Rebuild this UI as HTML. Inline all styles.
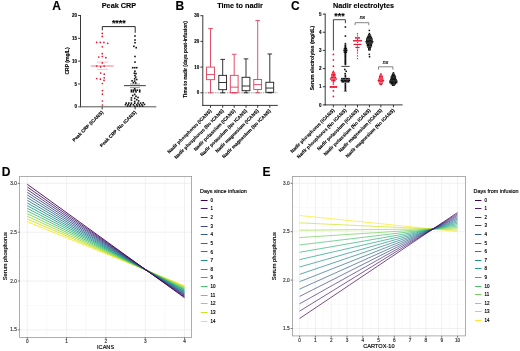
<!DOCTYPE html>
<html lang="en"><head><meta charset="utf-8"><title>Figure</title>
<style>
html,body{margin:0;padding:0;background:#fff;}
body{width:520px;height:351px;overflow:hidden;font-family:"Liberation Sans",Arial,sans-serif;}
svg{display:block;}
svg text{font-family:"Liberation Sans",Arial,sans-serif;}
</style></head><body>
<svg width="520" height="351" viewBox="0 0 520 351">
<rect width="520" height="351" fill="#fff"/>
<text x="52.2" y="10.0" font-size="12" font-weight="bold" text-anchor="start" fill="#000" stroke="#000" stroke-width="0.12">A</text>
<text x="175.4" y="10.0" font-size="12" font-weight="bold" text-anchor="start" fill="#000" stroke="#000" stroke-width="0.12">B</text>
<text x="291.0" y="10.0" font-size="12" font-weight="bold" text-anchor="start" fill="#000" stroke="#000" stroke-width="0.12">C</text>
<text x="1.7" y="175.9" font-size="12" font-weight="bold" text-anchor="start" fill="#000" stroke="#000" stroke-width="0.12">D</text>
<text x="262.5" y="175.9" font-size="12" font-weight="bold" text-anchor="start" fill="#000" stroke="#000" stroke-width="0.12">E</text>
<text x="119" y="8.3" font-size="7.3" font-weight="bold" text-anchor="middle" fill="#000" stroke="#000" stroke-width="0.12">Peak CRP</text>
<text x="240" y="8.3" font-size="7.3" font-weight="bold" text-anchor="middle" fill="#000" stroke="#000" stroke-width="0.12">Time to nadir</text>
<text x="363.5" y="8.3" font-size="7.3" font-weight="bold" text-anchor="middle" fill="#000" stroke="#000" stroke-width="0.12">Nadir electrolytes</text>
<line x1="80.50" y1="15.00" x2="80.50" y2="107.30" stroke="#222" stroke-width="0.9"/>
<line x1="78.30" y1="106.80" x2="156.30" y2="106.80" stroke="#555" stroke-width="1.0"/>
<text x="76.9" y="108.39999999999999" font-size="4.5" font-weight="bold" text-anchor="end" fill="#000" stroke="#000" stroke-width="0.12">0</text>
<line x1="78.10" y1="83.97" x2="80.50" y2="83.97" stroke="#222" stroke-width="0.9"/>
<text x="76.9" y="85.57499999999999" font-size="4.5" font-weight="bold" text-anchor="end" fill="#000" stroke="#000" stroke-width="0.12">5</text>
<line x1="78.10" y1="61.15" x2="80.50" y2="61.15" stroke="#222" stroke-width="0.9"/>
<text x="76.9" y="62.75" font-size="4.5" font-weight="bold" text-anchor="end" fill="#000" stroke="#000" stroke-width="0.12">10</text>
<line x1="78.10" y1="38.33" x2="80.50" y2="38.33" stroke="#222" stroke-width="0.9"/>
<text x="76.9" y="39.925000000000004" font-size="4.5" font-weight="bold" text-anchor="end" fill="#000" stroke="#000" stroke-width="0.12">15</text>
<line x1="78.10" y1="15.50" x2="80.50" y2="15.50" stroke="#222" stroke-width="0.9"/>
<text x="76.9" y="17.1" font-size="4.5" font-weight="bold" text-anchor="end" fill="#000" stroke="#000" stroke-width="0.12">20</text>
<text x="68.6" y="61" font-size="5.0" font-weight="bold" text-anchor="middle" fill="#000" transform="rotate(-90 68.6 61)" stroke="#000" stroke-width="0.12">CRP (mg/L)</text>
<line x1="102.20" y1="106.80" x2="102.20" y2="109.40" stroke="#222" stroke-width="0.9"/>
<line x1="135.20" y1="106.80" x2="135.20" y2="109.40" stroke="#222" stroke-width="0.9"/>
<text x="103.6" y="112.6" font-size="4.75" font-weight="bold" text-anchor="end" fill="#000" transform="rotate(-45 103.6 112.6)" stroke="#000" stroke-width="0.12">Peak CRP (ICANS)</text>
<text x="136.6" y="112.6" font-size="4.75" font-weight="bold" text-anchor="end" fill="#000" transform="rotate(-45 136.6 112.6)" stroke="#000" stroke-width="0.12">Peak CRP (No ICANS)</text>
<path d="M102.3 30.4V26.6H135.2V32.8" fill="none" stroke="#111" stroke-width="0.9"/>
<text x="118.8" y="26.4" font-size="8.8" font-weight="bold" text-anchor="middle" fill="#000" stroke="#000" stroke-width="0.12">****</text>
<g fill="#e8112d"><circle cx="102.3" cy="33.4" r="0.85"/><circle cx="102.3" cy="36.4" r="0.85"/><circle cx="96.7" cy="42.4" r="0.85"/><circle cx="100.3" cy="42.4" r="0.85"/><circle cx="103.9" cy="42.4" r="0.85"/><circle cx="107.7" cy="43.3" r="0.85"/><circle cx="102.3" cy="46.8" r="0.85"/><circle cx="102.3" cy="53.7" r="0.85"/><circle cx="98.8" cy="57.1" r="0.85"/><circle cx="102.3" cy="56.5" r="0.85"/><circle cx="105.9" cy="57.7" r="0.85"/><circle cx="102.3" cy="62.9" r="0.85"/><circle cx="96.7" cy="66.0" r="0.85"/><circle cx="100.6" cy="66.9" r="0.85"/><circle cx="104.2" cy="66.0" r="0.85"/><circle cx="100.7" cy="73.1" r="0.85"/><circle cx="104.2" cy="74.2" r="0.85"/><circle cx="96.7" cy="78.5" r="0.85"/><circle cx="100.4" cy="79.2" r="0.85"/><circle cx="104.2" cy="77.8" r="0.85"/><circle cx="104.0" cy="80.4" r="0.85"/><circle cx="102.4" cy="83.5" r="0.85"/><circle cx="102.4" cy="90.6" r="0.85"/><circle cx="102.4" cy="94.2" r="0.85"/><circle cx="102.4" cy="101.0" r="0.85"/><circle cx="102.4" cy="105.0" r="0.85"/></g>
<line x1="90.70" y1="66.00" x2="113.60" y2="66.00" stroke="#e8112d" stroke-width="0.7" opacity="0.8"/>
<line x1="97.00" y1="62.10" x2="108.00" y2="62.10" stroke="#e8112d" stroke-width="0.5" opacity="0.55"/>
<line x1="97.00" y1="69.70" x2="108.00" y2="69.70" stroke="#e8112d" stroke-width="0.5" opacity="0.55"/>
<g fill="#111"><rect x="134.2" y="35.2" width="1.6" height="1.6"/><rect x="134.2" y="39.2" width="1.6" height="1.6"/><rect x="134.2" y="41.9" width="1.6" height="1.6"/><rect x="133.1" y="45.5" width="1.6" height="1.6"/><rect x="135.4" y="46.9" width="1.6" height="1.6"/><rect x="134.2" y="55.7" width="1.6" height="1.6"/><rect x="134.2" y="61.3" width="1.6" height="1.6"/><rect x="131.9" y="66.9" width="1.6" height="1.6"/><rect x="133.9" y="66.9" width="1.6" height="1.6"/><rect x="135.9" y="66.9" width="1.6" height="1.6"/><rect x="134.1" y="70.4" width="1.6" height="1.6"/><rect x="133.6" y="72.4" width="1.6" height="1.6"/><rect x="135.2" y="72.8" width="1.6" height="1.6"/><rect x="134.1" y="74.7" width="1.6" height="1.6"/><rect x="134.9" y="76.3" width="1.6" height="1.6"/><rect x="133.9" y="78.0" width="1.6" height="1.6"/><rect x="135.9" y="78.7" width="1.6" height="1.6"/><rect x="131.3" y="80.0" width="1.6" height="1.6"/><rect x="133.9" y="80.3" width="1.6" height="1.6"/><rect x="132.6" y="81.8" width="1.6" height="1.6"/><rect x="134.9" y="82.2" width="1.6" height="1.6"/><rect x="133.9" y="88.0" width="1.6" height="1.6"/><rect x="130.6" y="89.4" width="1.6" height="1.6"/><rect x="132.6" y="89.4" width="1.6" height="1.6"/><rect x="134.5" y="89.4" width="1.6" height="1.6"/><rect x="136.5" y="89.4" width="1.6" height="1.6"/><rect x="138.9" y="89.4" width="1.6" height="1.6"/><rect x="130.6" y="91.0" width="1.6" height="1.6"/><rect x="132.6" y="91.0" width="1.6" height="1.6"/><rect x="135.2" y="91.0" width="1.6" height="1.6"/><rect x="138.9" y="91.0" width="1.6" height="1.6"/><rect x="131.9" y="94.7" width="1.6" height="1.6"/><rect x="135.2" y="95.5" width="1.6" height="1.6"/><rect x="133.9" y="93.6" width="1.6" height="1.6"/><rect x="130.6" y="97.1" width="1.6" height="1.6"/><rect x="133.9" y="97.6" width="1.6" height="1.6"/><rect x="137.2" y="96.7" width="1.6" height="1.6"/><rect x="130.6" y="99.3" width="1.6" height="1.6"/><rect x="135.9" y="98.9" width="1.6" height="1.6"/><rect x="137.8" y="100.1" width="1.6" height="1.6"/><rect x="133.9" y="100.7" width="1.6" height="1.6"/><rect x="125.4" y="102.3" width="1.6" height="1.6"/><rect x="128.0" y="102.3" width="1.6" height="1.6"/><rect x="130.6" y="102.3" width="1.6" height="1.6"/><rect x="133.9" y="102.4" width="1.6" height="1.6"/><rect x="137.2" y="102.3" width="1.6" height="1.6"/><rect x="139.8" y="102.3" width="1.6" height="1.6"/><rect x="142.4" y="102.0" width="1.6" height="1.6"/><rect x="124.7" y="103.9" width="1.6" height="1.6"/><rect x="127.3" y="103.9" width="1.6" height="1.6"/><rect x="129.9" y="103.9" width="1.6" height="1.6"/><rect x="132.6" y="104.0" width="1.6" height="1.6"/><rect x="135.9" y="103.9" width="1.6" height="1.6"/><rect x="138.5" y="103.9" width="1.6" height="1.6"/><rect x="141.1" y="103.9" width="1.6" height="1.6"/><rect x="143.7" y="103.6" width="1.6" height="1.6"/><rect x="126.7" y="105.3" width="1.6" height="1.6"/><rect x="129.3" y="105.3" width="1.6" height="1.6"/><rect x="133.9" y="105.5" width="1.6" height="1.6"/><rect x="136.5" y="105.3" width="1.6" height="1.6"/><rect x="139.1" y="105.3" width="1.6" height="1.6"/><rect x="141.8" y="105.3" width="1.6" height="1.6"/></g>
<line x1="124.00" y1="85.65" x2="145.80" y2="85.65" stroke="#222" stroke-width="0.9"/>
<line x1="130.00" y1="84.00" x2="140.00" y2="84.00" stroke="#333" stroke-width="0.5"/>
<line x1="130.00" y1="87.60" x2="140.00" y2="87.60" stroke="#333" stroke-width="0.5"/>
<line x1="202.80" y1="15.20" x2="202.80" y2="105.90" stroke="#222" stroke-width="0.9"/>
<line x1="202.30" y1="105.40" x2="277.80" y2="105.40" stroke="#222" stroke-width="0.9"/>
<line x1="202.80" y1="92.80" x2="277.60" y2="92.80" stroke="#888" stroke-width="0.8" stroke-dasharray="1.6 0.8"/>
<line x1="200.40" y1="92.80" x2="202.80" y2="92.80" stroke="#222" stroke-width="0.9"/>
<text x="199.20000000000002" y="94.39999999999999" font-size="4.5" font-weight="bold" text-anchor="end" fill="#000" stroke="#000" stroke-width="0.12">0</text>
<line x1="200.40" y1="67.10" x2="202.80" y2="67.10" stroke="#222" stroke-width="0.9"/>
<text x="199.20000000000002" y="68.69999999999999" font-size="4.5" font-weight="bold" text-anchor="end" fill="#000" stroke="#000" stroke-width="0.12">10</text>
<line x1="200.40" y1="41.40" x2="202.80" y2="41.40" stroke="#222" stroke-width="0.9"/>
<text x="199.20000000000002" y="43.0" font-size="4.5" font-weight="bold" text-anchor="end" fill="#000" stroke="#000" stroke-width="0.12">20</text>
<line x1="200.40" y1="15.70" x2="202.80" y2="15.70" stroke="#222" stroke-width="0.9"/>
<text x="199.20000000000002" y="17.300000000000004" font-size="4.5" font-weight="bold" text-anchor="end" fill="#000" stroke="#000" stroke-width="0.12">30</text>
<text x="186.9" y="59.5" font-size="4.75" font-weight="bold" text-anchor="middle" fill="#000" transform="rotate(-90 186.9 59.5)" stroke="#000" stroke-width="0.12">Time to nadir (days post-infusion)</text>
<line x1="210.50" y1="28.55" x2="210.50" y2="67.10" stroke="#de3350" stroke-width="0.85"/>
<line x1="210.50" y1="79.69" x2="210.50" y2="92.80" stroke="#de3350" stroke-width="0.85"/>
<line x1="208.20" y1="28.55" x2="212.80" y2="28.55" stroke="#de3350" stroke-width="0.85"/>
<line x1="208.20" y1="92.80" x2="212.80" y2="92.80" stroke="#de3350" stroke-width="0.85"/>
<rect x="206.60" y="67.10" width="7.80" height="12.59" fill="none" stroke="#de3350" stroke-width="0.85"/>
<line x1="206.60" y1="74.55" x2="214.40" y2="74.55" stroke="#de3350" stroke-width="0.85"/>
<line x1="210.50" y1="105.40" x2="210.50" y2="107.80" stroke="#222" stroke-width="0.9"/>
<text x="211.9" y="111.2" font-size="4.75" font-weight="bold" text-anchor="end" fill="#000" transform="rotate(-45 211.9 111.2)" stroke="#000" stroke-width="0.12">Nadir phosphorus (ICANS)</text>
<line x1="222.70" y1="59.39" x2="222.70" y2="75.32" stroke="#111" stroke-width="0.85"/>
<line x1="222.70" y1="89.72" x2="222.70" y2="92.80" stroke="#111" stroke-width="0.85"/>
<line x1="220.40" y1="59.39" x2="225.00" y2="59.39" stroke="#111" stroke-width="0.85"/>
<line x1="220.40" y1="92.80" x2="225.00" y2="92.80" stroke="#111" stroke-width="0.85"/>
<rect x="218.80" y="75.32" width="7.80" height="14.39" fill="none" stroke="#111" stroke-width="0.85"/>
<line x1="218.80" y1="82.52" x2="226.60" y2="82.52" stroke="#111" stroke-width="0.85"/>
<line x1="222.70" y1="105.40" x2="222.70" y2="107.80" stroke="#222" stroke-width="0.9"/>
<text x="224.1" y="111.2" font-size="4.75" font-weight="bold" text-anchor="end" fill="#000" transform="rotate(-45 224.1 111.2)" stroke="#000" stroke-width="0.12">Nadir phosphorus (No ICANS)</text>
<line x1="234.20" y1="54.25" x2="234.20" y2="75.32" stroke="#de3350" stroke-width="0.85"/>
<line x1="234.20" y1="92.80" x2="234.20" y2="92.80" stroke="#de3350" stroke-width="0.85"/>
<line x1="231.90" y1="54.25" x2="236.50" y2="54.25" stroke="#de3350" stroke-width="0.85"/>
<line x1="231.90" y1="92.80" x2="236.50" y2="92.80" stroke="#de3350" stroke-width="0.85"/>
<rect x="230.30" y="75.32" width="7.80" height="17.48" fill="none" stroke="#de3350" stroke-width="0.85"/>
<line x1="230.30" y1="87.15" x2="238.10" y2="87.15" stroke="#de3350" stroke-width="0.85"/>
<line x1="234.20" y1="105.40" x2="234.20" y2="107.80" stroke="#222" stroke-width="0.9"/>
<text x="235.6" y="111.2" font-size="4.75" font-weight="bold" text-anchor="end" fill="#000" transform="rotate(-45 235.6 111.2)" stroke="#000" stroke-width="0.12">Nadir potassium (ICANS)</text>
<line x1="246.00" y1="58.88" x2="246.00" y2="77.25" stroke="#111" stroke-width="0.85"/>
<line x1="246.00" y1="90.74" x2="246.00" y2="92.80" stroke="#111" stroke-width="0.85"/>
<line x1="243.70" y1="58.88" x2="248.30" y2="58.88" stroke="#111" stroke-width="0.85"/>
<line x1="243.70" y1="92.80" x2="248.30" y2="92.80" stroke="#111" stroke-width="0.85"/>
<rect x="242.10" y="77.25" width="7.80" height="13.49" fill="none" stroke="#111" stroke-width="0.85"/>
<line x1="242.10" y1="85.99" x2="249.90" y2="85.99" stroke="#111" stroke-width="0.85"/>
<line x1="246.00" y1="105.40" x2="246.00" y2="107.80" stroke="#222" stroke-width="0.9"/>
<text x="247.4" y="111.2" font-size="4.75" font-weight="bold" text-anchor="end" fill="#000" transform="rotate(-45 247.4 111.2)" stroke="#000" stroke-width="0.12">Nadir potassium (No ICANS)</text>
<line x1="257.70" y1="20.58" x2="257.70" y2="79.44" stroke="#de3350" stroke-width="0.85"/>
<line x1="257.70" y1="89.46" x2="257.70" y2="92.80" stroke="#de3350" stroke-width="0.85"/>
<line x1="255.40" y1="20.58" x2="260.00" y2="20.58" stroke="#de3350" stroke-width="0.85"/>
<line x1="255.40" y1="92.80" x2="260.00" y2="92.80" stroke="#de3350" stroke-width="0.85"/>
<rect x="253.80" y="79.44" width="7.80" height="10.02" fill="none" stroke="#de3350" stroke-width="0.85"/>
<line x1="253.80" y1="84.58" x2="261.60" y2="84.58" stroke="#de3350" stroke-width="0.85"/>
<line x1="257.70" y1="105.40" x2="257.70" y2="107.80" stroke="#222" stroke-width="0.9"/>
<text x="259.09999999999997" y="111.2" font-size="4.75" font-weight="bold" text-anchor="end" fill="#000" transform="rotate(-45 259.09999999999997 111.2)" stroke="#000" stroke-width="0.12">Nadir magnesium (ICANS)</text>
<line x1="269.80" y1="53.99" x2="269.80" y2="82.26" stroke="#111" stroke-width="0.85"/>
<line x1="269.80" y1="92.29" x2="269.80" y2="92.80" stroke="#111" stroke-width="0.85"/>
<line x1="267.50" y1="53.99" x2="272.10" y2="53.99" stroke="#111" stroke-width="0.85"/>
<line x1="267.50" y1="92.80" x2="272.10" y2="92.80" stroke="#111" stroke-width="0.85"/>
<rect x="265.90" y="82.26" width="7.80" height="10.02" fill="none" stroke="#111" stroke-width="0.85"/>
<line x1="265.90" y1="88.05" x2="273.70" y2="88.05" stroke="#111" stroke-width="0.85"/>
<line x1="269.80" y1="105.40" x2="269.80" y2="107.80" stroke="#222" stroke-width="0.9"/>
<text x="271.2" y="111.2" font-size="4.75" font-weight="bold" text-anchor="end" fill="#000" transform="rotate(-45 271.2 111.2)" stroke="#000" stroke-width="0.12">Nadir magnesium (No ICANS)</text>
<line x1="325.20" y1="13.60" x2="325.20" y2="105.40" stroke="#222" stroke-width="0.9"/>
<line x1="324.70" y1="104.90" x2="402.60" y2="104.90" stroke="#222" stroke-width="0.9"/>
<line x1="322.80" y1="104.90" x2="325.20" y2="104.90" stroke="#222" stroke-width="0.9"/>
<text x="321.59999999999997" y="106.5" font-size="4.5" font-weight="bold" text-anchor="end" fill="#000" stroke="#000" stroke-width="0.12">0</text>
<line x1="322.80" y1="86.74" x2="325.20" y2="86.74" stroke="#222" stroke-width="0.9"/>
<text x="321.59999999999997" y="88.34" font-size="4.5" font-weight="bold" text-anchor="end" fill="#000" stroke="#000" stroke-width="0.12">1</text>
<line x1="322.80" y1="68.58" x2="325.20" y2="68.58" stroke="#222" stroke-width="0.9"/>
<text x="321.59999999999997" y="70.17999999999999" font-size="4.5" font-weight="bold" text-anchor="end" fill="#000" stroke="#000" stroke-width="0.12">2</text>
<line x1="322.80" y1="50.42" x2="325.20" y2="50.42" stroke="#222" stroke-width="0.9"/>
<text x="321.59999999999997" y="52.02" font-size="4.5" font-weight="bold" text-anchor="end" fill="#000" stroke="#000" stroke-width="0.12">3</text>
<line x1="322.80" y1="32.26" x2="325.20" y2="32.26" stroke="#222" stroke-width="0.9"/>
<text x="321.59999999999997" y="33.85999999999999" font-size="4.5" font-weight="bold" text-anchor="end" fill="#000" stroke="#000" stroke-width="0.12">4</text>
<line x1="322.80" y1="14.10" x2="325.20" y2="14.10" stroke="#222" stroke-width="0.9"/>
<text x="321.59999999999997" y="15.699999999999994" font-size="4.5" font-weight="bold" text-anchor="end" fill="#000" stroke="#000" stroke-width="0.12">5</text>
<text x="314.3" y="58" font-size="5.0" font-weight="bold" text-anchor="middle" fill="#000" transform="rotate(-90 314.3 58)" stroke="#000" stroke-width="0.12">Serum electrolytes (mg/dL)</text>
<line x1="333.40" y1="104.90" x2="333.40" y2="107.30" stroke="#222" stroke-width="0.9"/>
<text x="334.79999999999995" y="110.7" font-size="4.75" font-weight="bold" text-anchor="end" fill="#000" transform="rotate(-45 334.79999999999995 110.7)" stroke="#000" stroke-width="0.12">Nadir phosphorus (ICANS)</text>
<line x1="345.40" y1="104.90" x2="345.40" y2="107.30" stroke="#222" stroke-width="0.9"/>
<text x="346.79999999999995" y="110.7" font-size="4.75" font-weight="bold" text-anchor="end" fill="#000" transform="rotate(-45 346.79999999999995 110.7)" stroke="#000" stroke-width="0.12">Nadir phosphorus (No ICANS)</text>
<line x1="357.50" y1="104.90" x2="357.50" y2="107.30" stroke="#222" stroke-width="0.9"/>
<text x="358.9" y="110.7" font-size="4.75" font-weight="bold" text-anchor="end" fill="#000" transform="rotate(-45 358.9 110.7)" stroke="#000" stroke-width="0.12">Nadir potassium (ICANS)</text>
<line x1="369.40" y1="104.90" x2="369.40" y2="107.30" stroke="#222" stroke-width="0.9"/>
<text x="370.79999999999995" y="110.7" font-size="4.75" font-weight="bold" text-anchor="end" fill="#000" transform="rotate(-45 370.79999999999995 110.7)" stroke="#000" stroke-width="0.12">Nadir potassium (No ICANS)</text>
<line x1="380.90" y1="104.90" x2="380.90" y2="107.30" stroke="#222" stroke-width="0.9"/>
<text x="382.29999999999995" y="110.7" font-size="4.75" font-weight="bold" text-anchor="end" fill="#000" transform="rotate(-45 382.29999999999995 110.7)" stroke="#000" stroke-width="0.12">Nadir magnesium (ICANS)</text>
<line x1="393.40" y1="104.90" x2="393.40" y2="107.30" stroke="#222" stroke-width="0.9"/>
<text x="394.79999999999995" y="110.7" font-size="4.75" font-weight="bold" text-anchor="end" fill="#000" transform="rotate(-45 394.79999999999995 110.7)" stroke="#000" stroke-width="0.12">Nadir magnesium (No ICANS)</text>
<path d="M333.4 50.5V19.7H345.4V23.2" fill="none" stroke="#111" stroke-width="0.8"/>
<text x="339.5" y="19.0" font-size="8.9" font-weight="bold" text-anchor="middle" fill="#000" stroke="#000" stroke-width="0.12">***</text>
<path d="M355.1 25.2V22.7H368.8V25.2" fill="none" stroke="#333" stroke-width="0.6"/>
<text x="362.4" y="19.2" font-size="5.2" font-weight="normal" text-anchor="middle" fill="#111" font-style="italic" stroke="#111" stroke-width="0.2">ns</text>
<path d="M378.5 69.6V66.8H392.9V69.6" fill="none" stroke="#333" stroke-width="0.6"/>
<text x="385.6" y="63.6" font-size="5.2" font-weight="normal" text-anchor="middle" fill="#111" font-style="italic" stroke="#111" stroke-width="0.2">ns</text>
<g fill="#e8112d"><circle cx="333.4" cy="54.4" r="0.85"/><circle cx="333.4" cy="59.9" r="0.85"/><circle cx="333.4" cy="66.2" r="0.85"/><circle cx="333.4" cy="71.3" r="0.85"/><circle cx="332.7" cy="72.8" r="0.85"/><circle cx="334.1" cy="72.8" r="0.85"/><circle cx="332.0" cy="74.4" r="0.85"/><circle cx="333.4" cy="74.4" r="0.85"/><circle cx="334.8" cy="74.4" r="0.85"/><circle cx="332.0" cy="75.9" r="0.85"/><circle cx="333.4" cy="75.9" r="0.85"/><circle cx="334.8" cy="75.9" r="0.85"/><circle cx="331.3" cy="77.5" r="0.85"/><circle cx="332.7" cy="77.5" r="0.85"/><circle cx="334.1" cy="77.5" r="0.85"/><circle cx="335.5" cy="77.5" r="0.85"/><circle cx="330.6" cy="79.0" r="0.85"/><circle cx="332.0" cy="79.0" r="0.85"/><circle cx="333.4" cy="79.0" r="0.85"/><circle cx="334.8" cy="79.0" r="0.85"/><circle cx="336.2" cy="79.0" r="0.85"/><circle cx="332.0" cy="80.6" r="0.85"/><circle cx="333.4" cy="80.6" r="0.85"/><circle cx="334.8" cy="80.6" r="0.85"/><circle cx="333.4" cy="82.1" r="0.85"/><circle cx="333.4" cy="84.0" r="0.85"/><circle cx="330.4" cy="86.9" r="0.85"/><circle cx="331.9" cy="86.9" r="0.85"/><circle cx="333.4" cy="86.9" r="0.85"/><circle cx="334.9" cy="86.9" r="0.85"/><circle cx="336.4" cy="86.9" r="0.85"/><circle cx="333.4" cy="90.9" r="0.85"/><circle cx="333.4" cy="96.4" r="0.85"/></g>
<line x1="330.00" y1="86.92" x2="336.80" y2="86.92" stroke="#e8112d" stroke-width="1.1"/>
<g fill="#111"><rect x="344.6" y="26.2" width="1.6" height="1.6"/><rect x="344.6" y="35.3" width="1.6" height="1.6"/><rect x="344.6" y="42.9" width="1.6" height="1.6"/><rect x="344.6" y="44.5" width="1.6" height="1.6"/><rect x="344.6" y="45.4" width="1.6" height="1.6"/><rect x="344.6" y="46.4" width="1.6" height="1.6"/><rect x="344.6" y="47.3" width="1.6" height="1.6"/><rect x="344.6" y="48.2" width="1.6" height="1.6"/><rect x="344.6" y="49.1" width="1.6" height="1.6"/><rect x="344.6" y="50.0" width="1.6" height="1.6"/><rect x="344.6" y="50.9" width="1.6" height="1.6"/><rect x="344.6" y="51.8" width="1.6" height="1.6"/><rect x="344.6" y="52.7" width="1.6" height="1.6"/><rect x="344.6" y="53.6" width="1.6" height="1.6"/><rect x="344.6" y="54.5" width="1.6" height="1.6"/><rect x="344.6" y="55.4" width="1.6" height="1.6"/><rect x="344.6" y="56.3" width="1.6" height="1.6"/><rect x="344.6" y="57.2" width="1.6" height="1.6"/><rect x="344.6" y="58.2" width="1.6" height="1.6"/><rect x="344.6" y="59.1" width="1.6" height="1.6"/><rect x="344.6" y="60.0" width="1.6" height="1.6"/><rect x="344.6" y="60.9" width="1.6" height="1.6"/><rect x="344.6" y="61.8" width="1.6" height="1.6"/><rect x="344.6" y="62.7" width="1.6" height="1.6"/><rect x="344.6" y="63.6" width="1.6" height="1.6"/><rect x="343.7" y="47.8" width="1.6" height="1.6"/><rect x="345.5" y="47.8" width="1.6" height="1.6"/><rect x="343.3" y="49.6" width="1.6" height="1.6"/><rect x="345.9" y="49.6" width="1.6" height="1.6"/><rect x="343.7" y="51.4" width="1.6" height="1.6"/><rect x="345.5" y="51.4" width="1.6" height="1.6"/><rect x="344.0" y="68.7" width="1.6" height="1.6"/><rect x="345.4" y="70.5" width="1.6" height="1.6"/><rect x="344.3" y="72.9" width="1.6" height="1.6"/><rect x="344.6" y="74.7" width="1.6" height="1.6"/><rect x="344.6" y="76.0" width="1.6" height="1.6"/><rect x="341.0" y="77.9" width="1.6" height="1.6"/><rect x="342.4" y="77.9" width="1.6" height="1.6"/><rect x="343.8" y="77.9" width="1.6" height="1.6"/><rect x="345.4" y="77.9" width="1.6" height="1.6"/><rect x="346.8" y="77.9" width="1.6" height="1.6"/><rect x="348.2" y="77.9" width="1.6" height="1.6"/><rect x="340.6" y="79.6" width="1.6" height="1.6"/><rect x="342.0" y="79.6" width="1.6" height="1.6"/><rect x="343.4" y="79.6" width="1.6" height="1.6"/><rect x="344.8" y="79.6" width="1.6" height="1.6"/><rect x="346.2" y="79.6" width="1.6" height="1.6"/><rect x="347.6" y="79.6" width="1.6" height="1.6"/><rect x="348.6" y="79.6" width="1.6" height="1.6"/><rect x="341.4" y="81.0" width="1.6" height="1.6"/><rect x="343.0" y="81.0" width="1.6" height="1.6"/><rect x="344.6" y="81.0" width="1.6" height="1.6"/><rect x="346.2" y="81.0" width="1.6" height="1.6"/><rect x="347.8" y="81.0" width="1.6" height="1.6"/><rect x="344.6" y="83.0" width="1.6" height="1.6"/><rect x="344.6" y="84.3" width="1.6" height="1.6"/><rect x="344.6" y="85.6" width="1.6" height="1.6"/><rect x="344.6" y="86.8" width="1.6" height="1.6"/><rect x="344.6" y="88.1" width="1.6" height="1.6"/><rect x="344.6" y="89.4" width="1.6" height="1.6"/></g>
<line x1="341.40" y1="66.40" x2="349.60" y2="66.40" stroke="#111" stroke-width="0.8"/>
<line x1="343.80" y1="91.28" x2="347.00" y2="91.28" stroke="#111" stroke-width="0.6"/>
<line x1="355.00" y1="37.89" x2="360.00" y2="37.89" stroke="#e8112d" stroke-width="0.9"/>
<line x1="353.60" y1="40.80" x2="361.40" y2="40.80" stroke="#e8112d" stroke-width="0.9"/>
<line x1="353.90" y1="44.43" x2="361.10" y2="44.43" stroke="#e8112d" stroke-width="0.9"/>
<line x1="355.70" y1="47.51" x2="359.30" y2="47.51" stroke="#e8112d" stroke-width="0.9"/>
<g fill="#e8112d"><circle cx="357.5" cy="33.7" r="0.7"/><circle cx="357.5" cy="35.9" r="0.7"/><circle cx="355.6" cy="37.9" r="0.7"/><circle cx="356.9" cy="37.9" r="0.7"/><circle cx="358.1" cy="37.9" r="0.7"/><circle cx="359.4" cy="37.9" r="0.7"/><circle cx="353.6" cy="40.8" r="0.7"/><circle cx="354.9" cy="40.8" r="0.7"/><circle cx="356.2" cy="40.8" r="0.7"/><circle cx="357.5" cy="40.8" r="0.7"/><circle cx="358.8" cy="40.8" r="0.7"/><circle cx="360.1" cy="40.8" r="0.7"/><circle cx="361.4" cy="40.8" r="0.7"/><circle cx="354.2" cy="44.4" r="0.7"/><circle cx="355.6" cy="44.4" r="0.7"/><circle cx="356.9" cy="44.4" r="0.7"/><circle cx="358.1" cy="44.4" r="0.7"/><circle cx="359.4" cy="44.4" r="0.7"/><circle cx="360.8" cy="44.4" r="0.7"/><circle cx="356.2" cy="47.5" r="0.7"/><circle cx="357.5" cy="47.5" r="0.7"/><circle cx="358.8" cy="47.5" r="0.7"/><circle cx="357.5" cy="39.3" r="0.7"/><circle cx="357.5" cy="42.6" r="0.7"/><circle cx="357.5" cy="45.9" r="0.7"/><circle cx="357.5" cy="49.1" r="0.7"/><circle cx="357.5" cy="50.8" r="0.7"/><circle cx="357.5" cy="53.0" r="0.7"/><circle cx="357.5" cy="55.9" r="0.7"/><circle cx="357.5" cy="58.6" r="0.7"/></g>
<g fill="#111"><rect x="368.6" y="29.7" width="1.5" height="1.5"/><rect x="368.6" y="32.8" width="1.5" height="1.5"/><rect x="368.0" y="34.1" width="1.5" height="1.5"/><rect x="369.3" y="34.1" width="1.5" height="1.5"/><rect x="367.3" y="35.5" width="1.5" height="1.5"/><rect x="368.6" y="35.5" width="1.5" height="1.5"/><rect x="369.9" y="35.5" width="1.5" height="1.5"/><rect x="366.7" y="36.9" width="1.5" height="1.5"/><rect x="368.0" y="36.9" width="1.5" height="1.5"/><rect x="369.3" y="36.9" width="1.5" height="1.5"/><rect x="370.6" y="36.9" width="1.5" height="1.5"/><rect x="366.0" y="38.2" width="1.5" height="1.5"/><rect x="367.3" y="38.2" width="1.5" height="1.5"/><rect x="368.6" y="38.2" width="1.5" height="1.5"/><rect x="369.9" y="38.2" width="1.5" height="1.5"/><rect x="371.2" y="38.2" width="1.5" height="1.5"/><rect x="366.0" y="39.6" width="1.5" height="1.5"/><rect x="367.3" y="39.6" width="1.5" height="1.5"/><rect x="368.6" y="39.6" width="1.5" height="1.5"/><rect x="369.9" y="39.6" width="1.5" height="1.5"/><rect x="371.2" y="39.6" width="1.5" height="1.5"/><rect x="365.4" y="41.0" width="1.5" height="1.5"/><rect x="366.7" y="41.0" width="1.5" height="1.5"/><rect x="368.0" y="41.0" width="1.5" height="1.5"/><rect x="369.3" y="41.0" width="1.5" height="1.5"/><rect x="370.6" y="41.0" width="1.5" height="1.5"/><rect x="371.9" y="41.0" width="1.5" height="1.5"/><rect x="366.0" y="42.3" width="1.5" height="1.5"/><rect x="367.3" y="42.3" width="1.5" height="1.5"/><rect x="368.6" y="42.3" width="1.5" height="1.5"/><rect x="369.9" y="42.3" width="1.5" height="1.5"/><rect x="371.2" y="42.3" width="1.5" height="1.5"/><rect x="366.7" y="43.7" width="1.5" height="1.5"/><rect x="368.0" y="43.7" width="1.5" height="1.5"/><rect x="369.3" y="43.7" width="1.5" height="1.5"/><rect x="370.6" y="43.7" width="1.5" height="1.5"/><rect x="366.7" y="45.0" width="1.5" height="1.5"/><rect x="368.0" y="45.0" width="1.5" height="1.5"/><rect x="369.3" y="45.0" width="1.5" height="1.5"/><rect x="370.6" y="45.0" width="1.5" height="1.5"/><rect x="367.3" y="46.4" width="1.5" height="1.5"/><rect x="368.6" y="46.4" width="1.5" height="1.5"/><rect x="369.9" y="46.4" width="1.5" height="1.5"/><rect x="368.0" y="47.8" width="1.5" height="1.5"/><rect x="369.3" y="47.8" width="1.5" height="1.5"/><rect x="368.0" y="49.1" width="1.5" height="1.5"/><rect x="369.3" y="49.1" width="1.5" height="1.5"/><rect x="368.6" y="53.7" width="1.5" height="1.5"/><rect x="368.8" y="56.0" width="1.5" height="1.5"/></g>
<g fill="#e8112d"><circle cx="380.9" cy="73.7" r="0.8"/><circle cx="380.2" cy="75.0" r="0.8"/><circle cx="381.5" cy="75.0" r="0.8"/><circle cx="379.6" cy="76.4" r="0.8"/><circle cx="380.9" cy="76.4" r="0.8"/><circle cx="382.2" cy="76.4" r="0.8"/><circle cx="379.6" cy="77.8" r="0.8"/><circle cx="380.9" cy="77.8" r="0.8"/><circle cx="382.2" cy="77.8" r="0.8"/><circle cx="378.9" cy="79.1" r="0.8"/><circle cx="380.2" cy="79.1" r="0.8"/><circle cx="381.5" cy="79.1" r="0.8"/><circle cx="382.8" cy="79.1" r="0.8"/><circle cx="378.3" cy="80.5" r="0.8"/><circle cx="379.6" cy="80.5" r="0.8"/><circle cx="380.9" cy="80.5" r="0.8"/><circle cx="382.2" cy="80.5" r="0.8"/><circle cx="383.5" cy="80.5" r="0.8"/><circle cx="378.9" cy="81.8" r="0.8"/><circle cx="380.2" cy="81.8" r="0.8"/><circle cx="381.5" cy="81.8" r="0.8"/><circle cx="382.8" cy="81.8" r="0.8"/><circle cx="379.6" cy="83.2" r="0.8"/><circle cx="380.9" cy="83.2" r="0.8"/><circle cx="382.2" cy="83.2" r="0.8"/><circle cx="380.2" cy="84.6" r="0.8"/><circle cx="381.5" cy="84.6" r="0.8"/></g>
<g fill="#111"><rect x="392.6" y="72.1" width="1.6" height="1.6"/><rect x="391.9" y="73.5" width="1.6" height="1.6"/><rect x="393.2" y="73.5" width="1.6" height="1.6"/><rect x="391.3" y="74.9" width="1.6" height="1.6"/><rect x="392.6" y="74.9" width="1.6" height="1.6"/><rect x="393.9" y="74.9" width="1.6" height="1.6"/><rect x="390.6" y="76.2" width="1.6" height="1.6"/><rect x="391.9" y="76.2" width="1.6" height="1.6"/><rect x="393.2" y="76.2" width="1.6" height="1.6"/><rect x="394.5" y="76.2" width="1.6" height="1.6"/><rect x="390.6" y="77.6" width="1.6" height="1.6"/><rect x="391.9" y="77.6" width="1.6" height="1.6"/><rect x="393.2" y="77.6" width="1.6" height="1.6"/><rect x="394.5" y="77.6" width="1.6" height="1.6"/><rect x="390.0" y="78.9" width="1.6" height="1.6"/><rect x="391.3" y="78.9" width="1.6" height="1.6"/><rect x="392.6" y="78.9" width="1.6" height="1.6"/><rect x="393.9" y="78.9" width="1.6" height="1.6"/><rect x="395.2" y="78.9" width="1.6" height="1.6"/><rect x="389.3" y="80.3" width="1.6" height="1.6"/><rect x="390.6" y="80.3" width="1.6" height="1.6"/><rect x="391.9" y="80.3" width="1.6" height="1.6"/><rect x="393.2" y="80.3" width="1.6" height="1.6"/><rect x="394.5" y="80.3" width="1.6" height="1.6"/><rect x="395.8" y="80.3" width="1.6" height="1.6"/><rect x="389.3" y="81.7" width="1.6" height="1.6"/><rect x="390.6" y="81.7" width="1.6" height="1.6"/><rect x="391.9" y="81.7" width="1.6" height="1.6"/><rect x="393.2" y="81.7" width="1.6" height="1.6"/><rect x="394.5" y="81.7" width="1.6" height="1.6"/><rect x="395.8" y="81.7" width="1.6" height="1.6"/><rect x="390.6" y="83.0" width="1.6" height="1.6"/><rect x="391.9" y="83.0" width="1.6" height="1.6"/><rect x="393.2" y="83.0" width="1.6" height="1.6"/><rect x="394.5" y="83.0" width="1.6" height="1.6"/><rect x="391.9" y="84.4" width="1.6" height="1.6"/><rect x="393.2" y="84.4" width="1.6" height="1.6"/></g>
<rect x="19.6" y="176.4" width="172.0" height="160.99999999999997" fill="#fff"/>
<line x1="46.95" y1="176.40" x2="46.95" y2="337.40" stroke="#f1f1f1" stroke-width="0.35"/>
<line x1="86.25" y1="176.40" x2="86.25" y2="337.40" stroke="#f1f1f1" stroke-width="0.35"/>
<line x1="125.55" y1="176.40" x2="125.55" y2="337.40" stroke="#f1f1f1" stroke-width="0.35"/>
<line x1="164.85" y1="176.40" x2="164.85" y2="337.40" stroke="#f1f1f1" stroke-width="0.35"/>
<line x1="19.60" y1="305.40" x2="191.60" y2="305.40" stroke="#f1f1f1" stroke-width="0.35"/>
<line x1="19.60" y1="256.60" x2="191.60" y2="256.60" stroke="#f1f1f1" stroke-width="0.35"/>
<line x1="19.60" y1="207.80" x2="191.60" y2="207.80" stroke="#f1f1f1" stroke-width="0.35"/>
<line x1="27.30" y1="176.40" x2="27.30" y2="337.40" stroke="#e6e6e6" stroke-width="0.55"/>
<line x1="66.60" y1="176.40" x2="66.60" y2="337.40" stroke="#e6e6e6" stroke-width="0.55"/>
<line x1="105.90" y1="176.40" x2="105.90" y2="337.40" stroke="#e6e6e6" stroke-width="0.55"/>
<line x1="145.20" y1="176.40" x2="145.20" y2="337.40" stroke="#e6e6e6" stroke-width="0.55"/>
<line x1="184.50" y1="176.40" x2="184.50" y2="337.40" stroke="#e6e6e6" stroke-width="0.55"/>
<line x1="19.60" y1="329.80" x2="191.60" y2="329.80" stroke="#e6e6e6" stroke-width="0.55"/>
<line x1="19.60" y1="281.00" x2="191.60" y2="281.00" stroke="#e6e6e6" stroke-width="0.55"/>
<line x1="19.60" y1="232.20" x2="191.60" y2="232.20" stroke="#e6e6e6" stroke-width="0.55"/>
<line x1="19.60" y1="183.40" x2="191.60" y2="183.40" stroke="#e6e6e6" stroke-width="0.55"/>
<line x1="27.30" y1="221.70" x2="184.50" y2="285.80" stroke="#FDE725" stroke-width="0.9"/>
<line x1="27.30" y1="219.03" x2="184.50" y2="286.65" stroke="#CFE11C" stroke-width="0.9"/>
<line x1="27.30" y1="216.36" x2="184.50" y2="287.50" stroke="#9FDA3A" stroke-width="0.9"/>
<line x1="27.30" y1="213.69" x2="184.50" y2="288.35" stroke="#71CF57" stroke-width="0.9"/>
<line x1="27.30" y1="211.01" x2="184.50" y2="289.20" stroke="#4AC16D" stroke-width="0.9"/>
<line x1="27.30" y1="208.34" x2="184.50" y2="290.05" stroke="#2DB27D" stroke-width="0.9"/>
<line x1="27.30" y1="205.67" x2="184.50" y2="290.90" stroke="#1FA187" stroke-width="0.9"/>
<line x1="27.30" y1="203.00" x2="184.50" y2="291.75" stroke="#21908C" stroke-width="0.9"/>
<line x1="27.30" y1="200.33" x2="184.50" y2="292.60" stroke="#277F8E" stroke-width="0.9"/>
<line x1="27.30" y1="197.66" x2="184.50" y2="293.45" stroke="#2E6E8E" stroke-width="0.9"/>
<line x1="27.30" y1="194.99" x2="184.50" y2="294.30" stroke="#365C8D" stroke-width="0.9"/>
<line x1="27.30" y1="192.31" x2="184.50" y2="295.15" stroke="#3F4788" stroke-width="0.9"/>
<line x1="27.30" y1="189.64" x2="184.50" y2="296.00" stroke="#46327E" stroke-width="0.9"/>
<line x1="27.30" y1="186.97" x2="184.50" y2="296.85" stroke="#481B6D" stroke-width="0.9"/>
<line x1="27.30" y1="184.30" x2="184.50" y2="297.70" stroke="#440154" stroke-width="0.9"/>
<rect x="19.6" y="176.4" width="172.0" height="160.99999999999997" fill="none" stroke="#999" stroke-width="0.8"/>
<line x1="27.30" y1="337.40" x2="27.30" y2="339.20" stroke="#444" stroke-width="0.7"/>
<text x="27.3" y="343.09999999999997" font-size="4.7" font-weight="normal" text-anchor="middle" fill="#333" stroke="#333" stroke-width="0.16">0</text>
<line x1="66.60" y1="337.40" x2="66.60" y2="339.20" stroke="#444" stroke-width="0.7"/>
<text x="66.6" y="343.09999999999997" font-size="4.7" font-weight="normal" text-anchor="middle" fill="#333" stroke="#333" stroke-width="0.16">1</text>
<line x1="105.90" y1="337.40" x2="105.90" y2="339.20" stroke="#444" stroke-width="0.7"/>
<text x="105.89999999999999" y="343.09999999999997" font-size="4.7" font-weight="normal" text-anchor="middle" fill="#333" stroke="#333" stroke-width="0.16">2</text>
<line x1="145.20" y1="337.40" x2="145.20" y2="339.20" stroke="#444" stroke-width="0.7"/>
<text x="145.2" y="343.09999999999997" font-size="4.7" font-weight="normal" text-anchor="middle" fill="#333" stroke="#333" stroke-width="0.16">3</text>
<line x1="184.50" y1="337.40" x2="184.50" y2="339.20" stroke="#444" stroke-width="0.7"/>
<text x="184.5" y="343.09999999999997" font-size="4.7" font-weight="normal" text-anchor="middle" fill="#333" stroke="#333" stroke-width="0.16">4</text>
<line x1="17.80" y1="329.80" x2="19.60" y2="329.80" stroke="#444" stroke-width="0.7"/>
<text x="16.8" y="331.45" font-size="4.7" font-weight="normal" text-anchor="end" fill="#333" stroke="#333" stroke-width="0.16">1.5</text>
<line x1="17.80" y1="281.00" x2="19.60" y2="281.00" stroke="#444" stroke-width="0.7"/>
<text x="16.8" y="282.65" font-size="4.7" font-weight="normal" text-anchor="end" fill="#333" stroke="#333" stroke-width="0.16">2.0</text>
<line x1="17.80" y1="232.20" x2="19.60" y2="232.20" stroke="#444" stroke-width="0.7"/>
<text x="16.8" y="233.85000000000002" font-size="4.7" font-weight="normal" text-anchor="end" fill="#333" stroke="#333" stroke-width="0.16">2.5</text>
<line x1="17.80" y1="183.40" x2="19.60" y2="183.40" stroke="#444" stroke-width="0.7"/>
<text x="16.8" y="185.05000000000004" font-size="4.7" font-weight="normal" text-anchor="end" fill="#333" stroke="#333" stroke-width="0.16">3.0</text>
<text x="105.6" y="349.2" font-size="5.6" font-weight="normal" text-anchor="middle" fill="#000" stroke="#000" stroke-width="0.16">ICANS</text>
<text x="6.6" y="256.2" font-size="5.7" font-weight="normal" text-anchor="middle" fill="#000" transform="rotate(-90 6.6 256.2)" stroke="#000" stroke-width="0.16">Serum phosphorus</text>
<text x="200" y="193" font-size="5.45" font-weight="normal" text-anchor="start" fill="#000" stroke="#000" stroke-width="0.16">Days since infusion</text>
<line x1="200.80" y1="200.50" x2="207.60" y2="200.50" stroke="#440154" stroke-width="1.0"/>
<text x="210.6" y="201.79999999999998" font-size="4.5" font-weight="normal" text-anchor="start" fill="#000" stroke="#000" stroke-width="0.16">0</text>
<line x1="200.80" y1="208.50" x2="207.60" y2="208.50" stroke="#481B6D" stroke-width="1.0"/>
<text x="210.6" y="210.42999999999998" font-size="4.5" font-weight="normal" text-anchor="start" fill="#000" stroke="#000" stroke-width="0.16">1</text>
<line x1="200.80" y1="217.50" x2="207.60" y2="217.50" stroke="#46327E" stroke-width="1.0"/>
<text x="210.6" y="219.05999999999997" font-size="4.5" font-weight="normal" text-anchor="start" fill="#000" stroke="#000" stroke-width="0.16">2</text>
<line x1="200.80" y1="226.50" x2="207.60" y2="226.50" stroke="#3F4788" stroke-width="1.0"/>
<text x="210.6" y="227.68999999999997" font-size="4.5" font-weight="normal" text-anchor="start" fill="#000" stroke="#000" stroke-width="0.16">3</text>
<line x1="200.80" y1="234.50" x2="207.60" y2="234.50" stroke="#365C8D" stroke-width="1.0"/>
<text x="210.6" y="236.32" font-size="4.5" font-weight="normal" text-anchor="start" fill="#000" stroke="#000" stroke-width="0.16">4</text>
<line x1="200.80" y1="243.50" x2="207.60" y2="243.50" stroke="#2E6E8E" stroke-width="1.0"/>
<text x="210.6" y="244.95" font-size="4.5" font-weight="normal" text-anchor="start" fill="#000" stroke="#000" stroke-width="0.16">5</text>
<line x1="200.80" y1="251.50" x2="207.60" y2="251.50" stroke="#277F8E" stroke-width="1.0"/>
<text x="210.6" y="253.57999999999998" font-size="4.5" font-weight="normal" text-anchor="start" fill="#000" stroke="#000" stroke-width="0.16">6</text>
<line x1="200.80" y1="260.50" x2="207.60" y2="260.50" stroke="#21908C" stroke-width="1.0"/>
<text x="210.6" y="262.21000000000004" font-size="4.5" font-weight="normal" text-anchor="start" fill="#000" stroke="#000" stroke-width="0.16">7</text>
<line x1="200.80" y1="269.50" x2="207.60" y2="269.50" stroke="#1FA187" stroke-width="1.0"/>
<text x="210.6" y="270.84000000000003" font-size="4.5" font-weight="normal" text-anchor="start" fill="#000" stroke="#000" stroke-width="0.16">8</text>
<line x1="200.80" y1="277.50" x2="207.60" y2="277.50" stroke="#2DB27D" stroke-width="1.0"/>
<text x="210.6" y="279.47" font-size="4.5" font-weight="normal" text-anchor="start" fill="#000" stroke="#000" stroke-width="0.16">9</text>
<line x1="200.80" y1="286.50" x2="207.60" y2="286.50" stroke="#4AC16D" stroke-width="1.0"/>
<text x="210.6" y="288.1" font-size="4.5" font-weight="normal" text-anchor="start" fill="#000" stroke="#000" stroke-width="0.16">10</text>
<line x1="200.80" y1="295.50" x2="207.60" y2="295.50" stroke="#71CF57" stroke-width="1.0"/>
<text x="210.6" y="296.73" font-size="4.5" font-weight="normal" text-anchor="start" fill="#000" stroke="#000" stroke-width="0.16">11</text>
<line x1="200.80" y1="303.50" x2="207.60" y2="303.50" stroke="#9FDA3A" stroke-width="1.0"/>
<text x="210.6" y="305.36" font-size="4.5" font-weight="normal" text-anchor="start" fill="#000" stroke="#000" stroke-width="0.16">12</text>
<line x1="200.80" y1="312.50" x2="207.60" y2="312.50" stroke="#CFE11C" stroke-width="1.0"/>
<text x="210.6" y="313.99" font-size="4.5" font-weight="normal" text-anchor="start" fill="#000" stroke="#000" stroke-width="0.16">13</text>
<line x1="200.80" y1="321.50" x2="207.60" y2="321.50" stroke="#FDE725" stroke-width="1.0"/>
<text x="210.6" y="322.62" font-size="4.5" font-weight="normal" text-anchor="start" fill="#000" stroke="#000" stroke-width="0.16">14</text>
<rect x="292.4" y="176.4" width="173.0" height="159.49999999999997" fill="#fff"/>
<line x1="307.50" y1="176.40" x2="307.50" y2="335.90" stroke="#f1f1f1" stroke-width="0.35"/>
<line x1="323.29" y1="176.40" x2="323.29" y2="335.90" stroke="#f1f1f1" stroke-width="0.35"/>
<line x1="339.08" y1="176.40" x2="339.08" y2="335.90" stroke="#f1f1f1" stroke-width="0.35"/>
<line x1="354.87" y1="176.40" x2="354.87" y2="335.90" stroke="#f1f1f1" stroke-width="0.35"/>
<line x1="370.66" y1="176.40" x2="370.66" y2="335.90" stroke="#f1f1f1" stroke-width="0.35"/>
<line x1="386.45" y1="176.40" x2="386.45" y2="335.90" stroke="#f1f1f1" stroke-width="0.35"/>
<line x1="402.24" y1="176.40" x2="402.24" y2="335.90" stroke="#f1f1f1" stroke-width="0.35"/>
<line x1="418.03" y1="176.40" x2="418.03" y2="335.90" stroke="#f1f1f1" stroke-width="0.35"/>
<line x1="433.82" y1="176.40" x2="433.82" y2="335.90" stroke="#f1f1f1" stroke-width="0.35"/>
<line x1="449.61" y1="176.40" x2="449.61" y2="335.90" stroke="#f1f1f1" stroke-width="0.35"/>
<line x1="292.40" y1="304.30" x2="465.40" y2="304.30" stroke="#f1f1f1" stroke-width="0.35"/>
<line x1="292.40" y1="255.90" x2="465.40" y2="255.90" stroke="#f1f1f1" stroke-width="0.35"/>
<line x1="292.40" y1="207.50" x2="465.40" y2="207.50" stroke="#f1f1f1" stroke-width="0.35"/>
<line x1="299.60" y1="176.40" x2="299.60" y2="335.90" stroke="#e6e6e6" stroke-width="0.55"/>
<line x1="315.39" y1="176.40" x2="315.39" y2="335.90" stroke="#e6e6e6" stroke-width="0.55"/>
<line x1="331.18" y1="176.40" x2="331.18" y2="335.90" stroke="#e6e6e6" stroke-width="0.55"/>
<line x1="346.97" y1="176.40" x2="346.97" y2="335.90" stroke="#e6e6e6" stroke-width="0.55"/>
<line x1="362.76" y1="176.40" x2="362.76" y2="335.90" stroke="#e6e6e6" stroke-width="0.55"/>
<line x1="378.55" y1="176.40" x2="378.55" y2="335.90" stroke="#e6e6e6" stroke-width="0.55"/>
<line x1="394.34" y1="176.40" x2="394.34" y2="335.90" stroke="#e6e6e6" stroke-width="0.55"/>
<line x1="410.13" y1="176.40" x2="410.13" y2="335.90" stroke="#e6e6e6" stroke-width="0.55"/>
<line x1="425.92" y1="176.40" x2="425.92" y2="335.90" stroke="#e6e6e6" stroke-width="0.55"/>
<line x1="441.71" y1="176.40" x2="441.71" y2="335.90" stroke="#e6e6e6" stroke-width="0.55"/>
<line x1="457.50" y1="176.40" x2="457.50" y2="335.90" stroke="#e6e6e6" stroke-width="0.55"/>
<line x1="292.40" y1="328.50" x2="465.40" y2="328.50" stroke="#e6e6e6" stroke-width="0.55"/>
<line x1="292.40" y1="280.10" x2="465.40" y2="280.10" stroke="#e6e6e6" stroke-width="0.55"/>
<line x1="292.40" y1="231.70" x2="465.40" y2="231.70" stroke="#e6e6e6" stroke-width="0.55"/>
<line x1="292.40" y1="183.30" x2="465.40" y2="183.30" stroke="#e6e6e6" stroke-width="0.55"/>
<line x1="299.60" y1="215.50" x2="457.50" y2="231.50" stroke="#FDE725" stroke-width="0.7"/>
<line x1="299.60" y1="222.86" x2="457.50" y2="230.14" stroke="#CFE11C" stroke-width="0.7"/>
<line x1="299.60" y1="230.21" x2="457.50" y2="228.79" stroke="#9FDA3A" stroke-width="0.7"/>
<line x1="299.60" y1="237.57" x2="457.50" y2="227.43" stroke="#71CF57" stroke-width="0.7"/>
<line x1="299.60" y1="244.93" x2="457.50" y2="226.07" stroke="#4AC16D" stroke-width="0.7"/>
<line x1="299.60" y1="252.29" x2="457.50" y2="224.71" stroke="#2DB27D" stroke-width="0.7"/>
<line x1="299.60" y1="259.64" x2="457.50" y2="223.36" stroke="#1FA187" stroke-width="0.7"/>
<line x1="299.60" y1="267.00" x2="457.50" y2="222.00" stroke="#21908C" stroke-width="0.7"/>
<line x1="299.60" y1="274.36" x2="457.50" y2="220.64" stroke="#277F8E" stroke-width="0.7"/>
<line x1="299.60" y1="281.71" x2="457.50" y2="219.29" stroke="#2E6E8E" stroke-width="0.7"/>
<line x1="299.60" y1="289.07" x2="457.50" y2="217.93" stroke="#365C8D" stroke-width="0.7"/>
<line x1="299.60" y1="296.43" x2="457.50" y2="216.57" stroke="#3F4788" stroke-width="0.7"/>
<line x1="299.60" y1="303.79" x2="457.50" y2="215.21" stroke="#46327E" stroke-width="0.7"/>
<line x1="299.60" y1="311.14" x2="457.50" y2="213.86" stroke="#481B6D" stroke-width="0.7"/>
<line x1="299.60" y1="318.50" x2="457.50" y2="212.50" stroke="#440154" stroke-width="0.7"/>
<rect x="292.4" y="176.4" width="173.0" height="159.49999999999997" fill="none" stroke="#999" stroke-width="0.8"/>
<line x1="299.60" y1="335.90" x2="299.60" y2="337.70" stroke="#444" stroke-width="0.7"/>
<text x="299.6" y="341.59999999999997" font-size="4.7" font-weight="normal" text-anchor="middle" fill="#333" stroke="#333" stroke-width="0.16">0</text>
<line x1="315.39" y1="335.90" x2="315.39" y2="337.70" stroke="#444" stroke-width="0.7"/>
<text x="315.39000000000004" y="341.59999999999997" font-size="4.7" font-weight="normal" text-anchor="middle" fill="#333" stroke="#333" stroke-width="0.16">1</text>
<line x1="331.18" y1="335.90" x2="331.18" y2="337.70" stroke="#444" stroke-width="0.7"/>
<text x="331.18" y="341.59999999999997" font-size="4.7" font-weight="normal" text-anchor="middle" fill="#333" stroke="#333" stroke-width="0.16">2</text>
<line x1="346.97" y1="335.90" x2="346.97" y2="337.70" stroke="#444" stroke-width="0.7"/>
<text x="346.97" y="341.59999999999997" font-size="4.7" font-weight="normal" text-anchor="middle" fill="#333" stroke="#333" stroke-width="0.16">3</text>
<line x1="362.76" y1="335.90" x2="362.76" y2="337.70" stroke="#444" stroke-width="0.7"/>
<text x="362.76" y="341.59999999999997" font-size="4.7" font-weight="normal" text-anchor="middle" fill="#333" stroke="#333" stroke-width="0.16">4</text>
<line x1="378.55" y1="335.90" x2="378.55" y2="337.70" stroke="#444" stroke-width="0.7"/>
<text x="378.55" y="341.59999999999997" font-size="4.7" font-weight="normal" text-anchor="middle" fill="#333" stroke="#333" stroke-width="0.16">5</text>
<line x1="394.34" y1="335.90" x2="394.34" y2="337.70" stroke="#444" stroke-width="0.7"/>
<text x="394.34000000000003" y="341.59999999999997" font-size="4.7" font-weight="normal" text-anchor="middle" fill="#333" stroke="#333" stroke-width="0.16">6</text>
<line x1="410.13" y1="335.90" x2="410.13" y2="337.70" stroke="#444" stroke-width="0.7"/>
<text x="410.13" y="341.59999999999997" font-size="4.7" font-weight="normal" text-anchor="middle" fill="#333" stroke="#333" stroke-width="0.16">7</text>
<line x1="425.92" y1="335.90" x2="425.92" y2="337.70" stroke="#444" stroke-width="0.7"/>
<text x="425.92" y="341.59999999999997" font-size="4.7" font-weight="normal" text-anchor="middle" fill="#333" stroke="#333" stroke-width="0.16">8</text>
<line x1="441.71" y1="335.90" x2="441.71" y2="337.70" stroke="#444" stroke-width="0.7"/>
<text x="441.71000000000004" y="341.59999999999997" font-size="4.7" font-weight="normal" text-anchor="middle" fill="#333" stroke="#333" stroke-width="0.16">9</text>
<line x1="457.50" y1="335.90" x2="457.50" y2="337.70" stroke="#444" stroke-width="0.7"/>
<text x="457.5" y="341.59999999999997" font-size="4.7" font-weight="normal" text-anchor="middle" fill="#333" stroke="#333" stroke-width="0.16">10</text>
<line x1="290.60" y1="328.50" x2="292.40" y2="328.50" stroke="#444" stroke-width="0.7"/>
<text x="289.59999999999997" y="330.15" font-size="4.7" font-weight="normal" text-anchor="end" fill="#333" stroke="#333" stroke-width="0.16">1.5</text>
<line x1="290.60" y1="280.10" x2="292.40" y2="280.10" stroke="#444" stroke-width="0.7"/>
<text x="289.59999999999997" y="281.75" font-size="4.7" font-weight="normal" text-anchor="end" fill="#333" stroke="#333" stroke-width="0.16">2.0</text>
<line x1="290.60" y1="231.70" x2="292.40" y2="231.70" stroke="#444" stroke-width="0.7"/>
<text x="289.59999999999997" y="233.35" font-size="4.7" font-weight="normal" text-anchor="end" fill="#333" stroke="#333" stroke-width="0.16">2.5</text>
<line x1="290.60" y1="183.30" x2="292.40" y2="183.30" stroke="#444" stroke-width="0.7"/>
<text x="289.59999999999997" y="184.95000000000002" font-size="4.7" font-weight="normal" text-anchor="end" fill="#333" stroke="#333" stroke-width="0.16">3.0</text>
<text x="378.9" y="347.6" font-size="5.6" font-weight="normal" text-anchor="middle" fill="#000" stroke="#000" stroke-width="0.16">CARTOX-10</text>
<text x="276.4" y="256.2" font-size="5.7" font-weight="normal" text-anchor="middle" fill="#000" transform="rotate(-90 276.4 256.2)" stroke="#000" stroke-width="0.16">Serum phosphorus</text>
<text x="473.6" y="192.5" font-size="5.45" font-weight="normal" text-anchor="start" fill="#000" stroke="#000" stroke-width="0.16">Days from infusion</text>
<line x1="475.00" y1="200.50" x2="481.40" y2="200.50" stroke="#440154" stroke-width="1.0"/>
<text x="484.6" y="201.7" font-size="4.5" font-weight="normal" text-anchor="start" fill="#000" stroke="#000" stroke-width="0.16">0</text>
<line x1="475.00" y1="208.50" x2="481.40" y2="208.50" stroke="#481B6D" stroke-width="1.0"/>
<text x="484.6" y="210.29" font-size="4.5" font-weight="normal" text-anchor="start" fill="#000" stroke="#000" stroke-width="0.16">1</text>
<line x1="475.00" y1="217.50" x2="481.40" y2="217.50" stroke="#46327E" stroke-width="1.0"/>
<text x="484.6" y="218.88" font-size="4.5" font-weight="normal" text-anchor="start" fill="#000" stroke="#000" stroke-width="0.16">2</text>
<line x1="475.00" y1="225.50" x2="481.40" y2="225.50" stroke="#3F4788" stroke-width="1.0"/>
<text x="484.6" y="227.47" font-size="4.5" font-weight="normal" text-anchor="start" fill="#000" stroke="#000" stroke-width="0.16">3</text>
<line x1="475.00" y1="234.50" x2="481.40" y2="234.50" stroke="#365C8D" stroke-width="1.0"/>
<text x="484.6" y="236.05999999999997" font-size="4.5" font-weight="normal" text-anchor="start" fill="#000" stroke="#000" stroke-width="0.16">4</text>
<line x1="475.00" y1="243.50" x2="481.40" y2="243.50" stroke="#2E6E8E" stroke-width="1.0"/>
<text x="484.6" y="244.65" font-size="4.5" font-weight="normal" text-anchor="start" fill="#000" stroke="#000" stroke-width="0.16">5</text>
<line x1="475.00" y1="251.50" x2="481.40" y2="251.50" stroke="#277F8E" stroke-width="1.0"/>
<text x="484.6" y="253.23999999999998" font-size="4.5" font-weight="normal" text-anchor="start" fill="#000" stroke="#000" stroke-width="0.16">6</text>
<line x1="475.00" y1="260.50" x2="481.40" y2="260.50" stroke="#21908C" stroke-width="1.0"/>
<text x="484.6" y="261.83000000000004" font-size="4.5" font-weight="normal" text-anchor="start" fill="#000" stroke="#000" stroke-width="0.16">7</text>
<line x1="475.00" y1="268.50" x2="481.40" y2="268.50" stroke="#1FA187" stroke-width="1.0"/>
<text x="484.6" y="270.42" font-size="4.5" font-weight="normal" text-anchor="start" fill="#000" stroke="#000" stroke-width="0.16">8</text>
<line x1="475.00" y1="277.50" x2="481.40" y2="277.50" stroke="#2DB27D" stroke-width="1.0"/>
<text x="484.6" y="279.01" font-size="4.5" font-weight="normal" text-anchor="start" fill="#000" stroke="#000" stroke-width="0.16">9</text>
<line x1="475.00" y1="286.50" x2="481.40" y2="286.50" stroke="#4AC16D" stroke-width="1.0"/>
<text x="484.6" y="287.6" font-size="4.5" font-weight="normal" text-anchor="start" fill="#000" stroke="#000" stroke-width="0.16">10</text>
<line x1="475.00" y1="294.50" x2="481.40" y2="294.50" stroke="#71CF57" stroke-width="1.0"/>
<text x="484.6" y="296.19" font-size="4.5" font-weight="normal" text-anchor="start" fill="#000" stroke="#000" stroke-width="0.16">11</text>
<line x1="475.00" y1="303.50" x2="481.40" y2="303.50" stroke="#9FDA3A" stroke-width="1.0"/>
<text x="484.6" y="304.78000000000003" font-size="4.5" font-weight="normal" text-anchor="start" fill="#000" stroke="#000" stroke-width="0.16">12</text>
<line x1="475.00" y1="311.50" x2="481.40" y2="311.50" stroke="#CFE11C" stroke-width="1.0"/>
<text x="484.6" y="313.37" font-size="4.5" font-weight="normal" text-anchor="start" fill="#000" stroke="#000" stroke-width="0.16">13</text>
<line x1="475.00" y1="320.50" x2="481.40" y2="320.50" stroke="#FDE725" stroke-width="1.0"/>
<text x="484.6" y="321.96000000000004" font-size="4.5" font-weight="normal" text-anchor="start" fill="#000" stroke="#000" stroke-width="0.16">14</text>
</svg>
</body></html>
